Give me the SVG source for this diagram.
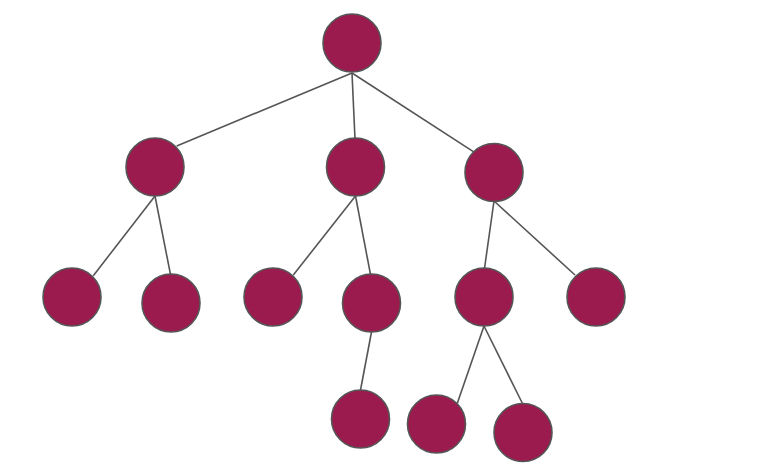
<svg xmlns="http://www.w3.org/2000/svg" width="768" height="470" viewBox="0 0 768 470">
<style>
.n{fill:#9b1b4f;stroke:#555555;stroke-width:1.6}
.e{stroke:#555555;stroke-width:1.6;fill:none}
</style>
<rect width="768" height="470" fill="#ffffff"/>
<g id="connectors">
<line class="e" x1="352" y1="73" x2="176.7" y2="146"/>
<line class="e" x1="352" y1="73" x2="355" y2="139"/>
<line class="e" x1="352" y1="73" x2="473.3" y2="151.7"/>
<line class="e" x1="155" y1="196" x2="93.3" y2="275.7"/>
<line class="e" x1="155" y1="196" x2="170.5" y2="274.5"/>
<line class="e" x1="355.5" y1="196" x2="293.3" y2="275"/>
<line class="e" x1="355.5" y1="196" x2="370.5" y2="274.5"/>
<line class="e" x1="494" y1="201" x2="484.5" y2="268.5"/>
<line class="e" x1="494" y1="201" x2="575" y2="275"/>
<line class="e" x1="371.5" y1="332" x2="360.5" y2="390"/>
<line class="e" x1="484" y1="326" x2="457.3" y2="403.3"/>
<line class="e" x1="484" y1="326" x2="522.7" y2="404"/>
</g>
<g id="root"><circle class="n" cx="352" cy="43" r="29"/></g>
<g id="a"><circle class="n" cx="155" cy="167" r="29"/></g>
<g id="b"><circle class="n" cx="355.5" cy="167" r="29"/></g>
<g id="c"><circle class="n" cx="494" cy="172.5" r="29"/></g>
<g id="a1"><circle class="n" cx="72" cy="297" r="29"/></g>
<g id="a2"><circle class="n" cx="171" cy="303" r="29"/></g>
<g id="b1"><circle class="n" cx="273" cy="297" r="29"/></g>
<g id="b2"><circle class="n" cx="371.5" cy="303" r="29"/></g>
<g id="c1"><circle class="n" cx="484" cy="297" r="29"/></g>
<g id="c2"><circle class="n" cx="596" cy="297" r="29"/></g>
<g id="b2a"><circle class="n" cx="360.5" cy="419" r="29"/></g>
<g id="c1a"><circle class="n" cx="436.5" cy="424" r="29"/></g>
<g id="c1b"><circle class="n" cx="523" cy="432.5" r="29"/></g>
</svg>
